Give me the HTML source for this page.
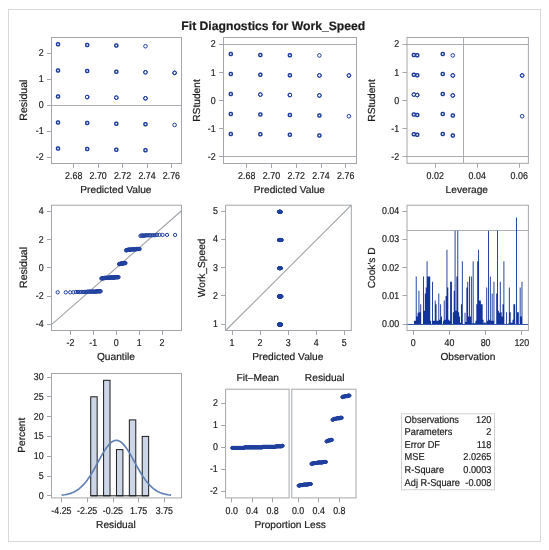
<!DOCTYPE html>
<html lang="en"><head><meta charset="utf-8"><title>Fit Diagnostics for Work_Speed</title>
<style>html,body{margin:0;padding:0;background:#fff;}svg{display:block;}</style></head>
<body>
<svg width="549" height="550" viewBox="0 0 549 550" font-family='"Liberation Sans", Arial, sans-serif' fill="#1c1c1c">
<style>text{stroke:#1c1c1c;stroke-width:0.2px;text-rendering:geometricPrecision;}</style>
<rect x="0" y="0" width="549" height="550" fill="#ffffff"/>
<rect x="8.5" y="9.5" width="532" height="532" fill="none" stroke="#d9d9d9" stroke-width="1"/>
<text x="273.3" y="29.6" font-size="12.2" text-anchor="middle" font-weight="bold">Fit Diagnostics for Work_Speed</text>
<line x1="51.5" y1="105.5" x2="181.5" y2="105.5" stroke="#a9adb2" stroke-width="1"/>
<g fill="none" stroke="#1f3f9f" stroke-width="1.0">
<rect x="56.52" y="42.87" width="3.0" height="3.0" rx="1.0" stroke-width="1.5"/>
<rect x="85.67" y="43.49" width="3.0" height="3.0" rx="1.0" stroke-width="1.5"/>
<rect x="114.81" y="44.11" width="3.0" height="3.0" rx="1.0" stroke-width="1.5"/>
<circle cx="145.46" cy="46.24" r="1.8"/>
<rect x="56.52" y="68.9" width="3.0" height="3.0" rx="1.0" stroke-width="1.5"/>
<rect x="85.67" y="69.52" width="3.0" height="3.0" rx="1.0" stroke-width="1.5"/>
<rect x="114.81" y="70.14" width="3.0" height="3.0" rx="1.0" stroke-width="1.5"/>
<circle cx="145.46" cy="72.27" r="1.8"/>
<circle cx="145.46" cy="72.27" r="1.8"/>
<circle cx="174.6" cy="72.89" r="1.8"/>
<circle cx="174.6" cy="72.89" r="1.8"/>
<rect x="56.52" y="94.93" width="3.0" height="3.0" rx="1.0" stroke-width="1.5"/>
<circle cx="87.17" cy="97.05" r="1.8"/>
<circle cx="87.17" cy="97.05" r="1.8"/>
<circle cx="116.31" cy="97.67" r="1.8"/>
<circle cx="116.31" cy="97.67" r="1.8"/>
<circle cx="145.46" cy="98.3" r="1.8"/>
<circle cx="145.46" cy="98.3" r="1.8"/>
<rect x="56.52" y="120.96" width="3.0" height="3.0" rx="1.0" stroke-width="1.5"/>
<rect x="85.67" y="121.58" width="3.0" height="3.0" rx="1.0" stroke-width="1.5"/>
<rect x="114.81" y="122.2" width="3.0" height="3.0" rx="1.0" stroke-width="1.5"/>
<rect x="143.96" y="122.83" width="3.0" height="3.0" rx="1.0" stroke-width="1.5"/>
<circle cx="174.6" cy="124.95" r="1.8"/>
<rect x="56.52" y="146.99" width="3.0" height="3.0" rx="1.0" stroke-width="1.5"/>
<rect x="85.67" y="147.61" width="3.0" height="3.0" rx="1.0" stroke-width="1.5"/>
<rect x="114.81" y="148.23" width="3.0" height="3.0" rx="1.0" stroke-width="1.5"/>
<rect x="143.96" y="148.86" width="3.0" height="3.0" rx="1.0" stroke-width="1.5"/>
</g>
<rect x="51.5" y="37.5" width="130" height="126" fill="none" stroke="#a3a7ab" stroke-width="1"/>
<line x1="73.5" y1="163.5" x2="73.5" y2="168" stroke="#a3a7ab" stroke-width="1"/>
<text transform="translate(73.7 179.1) scale(0.885 1)" font-size="10" text-anchor="middle">2.68</text>
<line x1="98.5" y1="163.5" x2="98.5" y2="168" stroke="#a3a7ab" stroke-width="1"/>
<text transform="translate(98.13 179.1) scale(0.885 1)" font-size="10" text-anchor="middle">2.70</text>
<line x1="122.5" y1="163.5" x2="122.5" y2="168" stroke="#a3a7ab" stroke-width="1"/>
<text transform="translate(122.56 179.1) scale(0.885 1)" font-size="10" text-anchor="middle">2.72</text>
<line x1="147.5" y1="163.5" x2="147.5" y2="168" stroke="#a3a7ab" stroke-width="1"/>
<text transform="translate(146.99 179.1) scale(0.885 1)" font-size="10" text-anchor="middle">2.74</text>
<line x1="171.5" y1="163.5" x2="171.5" y2="168" stroke="#a3a7ab" stroke-width="1"/>
<text transform="translate(171.42 179.1) scale(0.885 1)" font-size="10" text-anchor="middle">2.76</text>
<line x1="47" y1="53.5" x2="51.5" y2="53.5" stroke="#a3a7ab" stroke-width="1"/>
<text transform="translate(43.7 55.94) scale(0.885 1)" font-size="10" text-anchor="end">2</text>
<line x1="47" y1="79.5" x2="51.5" y2="79.5" stroke="#a3a7ab" stroke-width="1"/>
<text transform="translate(43.7 81.97) scale(0.885 1)" font-size="10" text-anchor="end">1</text>
<line x1="47" y1="105.5" x2="51.5" y2="105.5" stroke="#a3a7ab" stroke-width="1"/>
<text transform="translate(43.7 108) scale(0.885 1)" font-size="10" text-anchor="end">0</text>
<line x1="47" y1="131.5" x2="51.5" y2="131.5" stroke="#a3a7ab" stroke-width="1"/>
<text transform="translate(43.7 134.03) scale(0.885 1)" font-size="10" text-anchor="end">-1</text>
<line x1="47" y1="157.5" x2="51.5" y2="157.5" stroke="#a3a7ab" stroke-width="1"/>
<text transform="translate(43.7 160.06) scale(0.885 1)" font-size="10" text-anchor="end">-2</text>
<text x="115.9" y="192.6" font-size="10.2" text-anchor="middle">Predicted Value</text>
<text x="26.9" y="100.1" font-size="10.55" text-anchor="middle" transform="rotate(-90 26.9 100.1)">Residual</text>
<line x1="223.5" y1="44.5" x2="356.5" y2="44.5" stroke="#a9adb2" stroke-width="1"/>
<line x1="223.5" y1="156.5" x2="356.5" y2="156.5" stroke="#a9adb2" stroke-width="1"/>
<g fill="none" stroke="#1f3f9f" stroke-width="1.0">
<rect x="229.31" y="52.6" width="3.0" height="3.0" rx="1.0" stroke-width="1.5"/>
<rect x="258.84" y="53.4" width="3.0" height="3.0" rx="1.0" stroke-width="1.5"/>
<rect x="288.37" y="53.83" width="3.0" height="3.0" rx="1.0" stroke-width="1.5"/>
<circle cx="319.39" cy="55.42" r="1.8"/>
<rect x="229.31" y="72.57" width="3.0" height="3.0" rx="1.0" stroke-width="1.5"/>
<rect x="258.84" y="73.23" width="3.0" height="3.0" rx="1.0" stroke-width="1.5"/>
<rect x="288.37" y="73.68" width="3.0" height="3.0" rx="1.0" stroke-width="1.5"/>
<circle cx="319.39" cy="75.44" r="1.8"/>
<circle cx="319.39" cy="75.44" r="1.8"/>
<circle cx="348.92" cy="75.49" r="1.8"/>
<circle cx="348.92" cy="75.49" r="1.8"/>
<rect x="229.31" y="92.55" width="3.0" height="3.0" rx="1.0" stroke-width="1.5"/>
<circle cx="260.34" cy="94.57" r="1.8"/>
<circle cx="260.34" cy="94.57" r="1.8"/>
<circle cx="289.87" cy="95.04" r="1.8"/>
<circle cx="289.87" cy="95.04" r="1.8"/>
<circle cx="319.39" cy="95.47" r="1.8"/>
<circle cx="319.39" cy="95.47" r="1.8"/>
<rect x="229.31" y="112.52" width="3.0" height="3.0" rx="1.0" stroke-width="1.5"/>
<rect x="258.84" y="112.9" width="3.0" height="3.0" rx="1.0" stroke-width="1.5"/>
<rect x="288.37" y="113.39" width="3.0" height="3.0" rx="1.0" stroke-width="1.5"/>
<rect x="317.89" y="113.99" width="3.0" height="3.0" rx="1.0" stroke-width="1.5"/>
<circle cx="348.92" cy="116.23" r="1.8"/>
<rect x="229.31" y="132.5" width="3.0" height="3.0" rx="1.0" stroke-width="1.5"/>
<rect x="258.84" y="132.74" width="3.0" height="3.0" rx="1.0" stroke-width="1.5"/>
<rect x="288.37" y="133.24" width="3.0" height="3.0" rx="1.0" stroke-width="1.5"/>
<rect x="317.89" y="134.01" width="3.0" height="3.0" rx="1.0" stroke-width="1.5"/>
</g>
<rect x="223.5" y="37.5" width="133" height="126" fill="none" stroke="#a3a7ab" stroke-width="1"/>
<line x1="246.5" y1="163.5" x2="246.5" y2="168" stroke="#a3a7ab" stroke-width="1"/>
<text transform="translate(246.7 179.1) scale(0.885 1)" font-size="10" text-anchor="middle">2.68</text>
<line x1="271.5" y1="163.5" x2="271.5" y2="168" stroke="#a3a7ab" stroke-width="1"/>
<text transform="translate(271.45 179.1) scale(0.885 1)" font-size="10" text-anchor="middle">2.70</text>
<line x1="296.5" y1="163.5" x2="296.5" y2="168" stroke="#a3a7ab" stroke-width="1"/>
<text transform="translate(296.2 179.1) scale(0.885 1)" font-size="10" text-anchor="middle">2.72</text>
<line x1="321.5" y1="163.5" x2="321.5" y2="168" stroke="#a3a7ab" stroke-width="1"/>
<text transform="translate(320.95 179.1) scale(0.885 1)" font-size="10" text-anchor="middle">2.74</text>
<line x1="345.5" y1="163.5" x2="345.5" y2="168" stroke="#a3a7ab" stroke-width="1"/>
<text transform="translate(345.7 179.1) scale(0.885 1)" font-size="10" text-anchor="middle">2.76</text>
<line x1="219" y1="44.5" x2="223.5" y2="44.5" stroke="#a3a7ab" stroke-width="1"/>
<text transform="translate(215.7 47.4) scale(0.885 1)" font-size="10" text-anchor="end">2</text>
<line x1="219" y1="72.5" x2="223.5" y2="72.5" stroke="#a3a7ab" stroke-width="1"/>
<text transform="translate(215.7 75.5) scale(0.885 1)" font-size="10" text-anchor="end">1</text>
<line x1="219" y1="100.5" x2="223.5" y2="100.5" stroke="#a3a7ab" stroke-width="1"/>
<text transform="translate(215.7 103.6) scale(0.885 1)" font-size="10" text-anchor="end">0</text>
<line x1="219" y1="128.5" x2="223.5" y2="128.5" stroke="#a3a7ab" stroke-width="1"/>
<text transform="translate(215.7 131.7) scale(0.885 1)" font-size="10" text-anchor="end">-1</text>
<line x1="219" y1="156.5" x2="223.5" y2="156.5" stroke="#a3a7ab" stroke-width="1"/>
<text transform="translate(215.7 159.8) scale(0.885 1)" font-size="10" text-anchor="end">-2</text>
<text x="289.4" y="192.6" font-size="10.2" text-anchor="middle">Predicted Value</text>
<text x="200.4" y="100.5" font-size="10.2" text-anchor="middle" transform="rotate(-90 200.4 100.5)">RStudent</text>
<line x1="407" y1="44.5" x2="528.4" y2="44.5" stroke="#a9adb2" stroke-width="1"/>
<line x1="407" y1="156.5" x2="528.4" y2="156.5" stroke="#a9adb2" stroke-width="1"/>
<line x1="463.5" y1="37.5" x2="463.5" y2="163.3" stroke="#a9adb2" stroke-width="1"/>
<g fill="none" stroke="#1f3f9f" stroke-width="1.0">
<rect x="441.25" y="52.6" width="3.0" height="3.0" rx="1.0" stroke-width="1.5"/>
<rect x="412.35" y="53.4" width="3.0" height="3.0" rx="1.0" stroke-width="1.5"/>
<rect x="415.73" y="53.83" width="3.0" height="3.0" rx="1.0" stroke-width="1.5"/>
<circle cx="452.83" cy="55.42" r="1.8"/>
<rect x="441.25" y="72.57" width="3.0" height="3.0" rx="1.0" stroke-width="1.5"/>
<rect x="412.35" y="73.23" width="3.0" height="3.0" rx="1.0" stroke-width="1.5"/>
<rect x="415.73" y="73.68" width="3.0" height="3.0" rx="1.0" stroke-width="1.5"/>
<circle cx="452.83" cy="75.44" r="1.8"/>
<circle cx="452.83" cy="75.44" r="1.8"/>
<circle cx="522.13" cy="75.49" r="1.8"/>
<circle cx="522.13" cy="75.49" r="1.8"/>
<rect x="441.25" y="92.55" width="3.0" height="3.0" rx="1.0" stroke-width="1.5"/>
<circle cx="413.85" cy="94.57" r="1.8"/>
<circle cx="413.85" cy="94.57" r="1.8"/>
<circle cx="417.23" cy="95.04" r="1.8"/>
<circle cx="417.23" cy="95.04" r="1.8"/>
<circle cx="452.83" cy="95.47" r="1.8"/>
<circle cx="452.83" cy="95.47" r="1.8"/>
<rect x="441.25" y="112.52" width="3.0" height="3.0" rx="1.0" stroke-width="1.5"/>
<rect x="412.35" y="112.9" width="3.0" height="3.0" rx="1.0" stroke-width="1.5"/>
<rect x="415.73" y="113.39" width="3.0" height="3.0" rx="1.0" stroke-width="1.5"/>
<rect x="451.33" y="113.99" width="3.0" height="3.0" rx="1.0" stroke-width="1.5"/>
<circle cx="522.13" cy="116.23" r="1.8"/>
<rect x="441.25" y="132.5" width="3.0" height="3.0" rx="1.0" stroke-width="1.5"/>
<rect x="412.35" y="132.74" width="3.0" height="3.0" rx="1.0" stroke-width="1.5"/>
<rect x="415.73" y="133.24" width="3.0" height="3.0" rx="1.0" stroke-width="1.5"/>
<rect x="451.33" y="134.01" width="3.0" height="3.0" rx="1.0" stroke-width="1.5"/>
</g>
<rect x="407" y="37.5" width="121.4" height="125.8" fill="none" stroke="#a3a7ab" stroke-width="1"/>
<line x1="435.5" y1="163.3" x2="435.5" y2="167.8" stroke="#a3a7ab" stroke-width="1"/>
<text transform="translate(435.2 178.9) scale(0.885 1)" font-size="10" text-anchor="middle">0.02</text>
<line x1="477.5" y1="163.3" x2="477.5" y2="167.8" stroke="#a3a7ab" stroke-width="1"/>
<text transform="translate(477.2 178.9) scale(0.885 1)" font-size="10" text-anchor="middle">0.04</text>
<line x1="519.5" y1="163.3" x2="519.5" y2="167.8" stroke="#a3a7ab" stroke-width="1"/>
<text transform="translate(519.2 178.9) scale(0.885 1)" font-size="10" text-anchor="middle">0.06</text>
<line x1="402.5" y1="44.5" x2="407" y2="44.5" stroke="#a3a7ab" stroke-width="1"/>
<text transform="translate(399.2 47.4) scale(0.885 1)" font-size="10" text-anchor="end">2</text>
<line x1="402.5" y1="72.5" x2="407" y2="72.5" stroke="#a3a7ab" stroke-width="1"/>
<text transform="translate(399.2 75.5) scale(0.885 1)" font-size="10" text-anchor="end">1</text>
<line x1="402.5" y1="100.5" x2="407" y2="100.5" stroke="#a3a7ab" stroke-width="1"/>
<text transform="translate(399.2 103.6) scale(0.885 1)" font-size="10" text-anchor="end">0</text>
<line x1="402.5" y1="128.5" x2="407" y2="128.5" stroke="#a3a7ab" stroke-width="1"/>
<text transform="translate(399.2 131.7) scale(0.885 1)" font-size="10" text-anchor="end">-1</text>
<line x1="402.5" y1="156.5" x2="407" y2="156.5" stroke="#a3a7ab" stroke-width="1"/>
<text transform="translate(399.2 159.8) scale(0.885 1)" font-size="10" text-anchor="end">-2</text>
<text x="466.8" y="192.6" font-size="10.2" text-anchor="middle">Leverage</text>
<text x="375.2" y="100.4" font-size="10.2" text-anchor="middle" transform="rotate(-90 375.2 100.4)">RStudent</text>
<clipPath id="c4"><rect x="51.5" y="205.2" width="130.0" height="125.30000000000001"/></clipPath>
<line x1="51.5" y1="324.69" x2="181.5" y2="210.74" stroke="#9fa3a7" stroke-width="1.1" clip-path="url(#c4)"/>
<g fill="none" stroke="#1f3f9f" stroke-width="1.0">
<circle cx="57.72" cy="292.31" r="1.65"/>
<circle cx="65.77" cy="292.31" r="1.65"/>
<circle cx="70.2" cy="292.31" r="1.65"/>
<circle cx="73.38" cy="292.31" r="1.65"/>
<circle cx="75.89" cy="291.98" r="1.65"/>
<circle cx="78" cy="291.98" r="1.65"/>
<circle cx="79.82" cy="291.98" r="1.65"/>
<circle cx="81.44" cy="291.98" r="1.65"/>
<circle cx="82.9" cy="291.98" r="1.65"/>
<circle cx="84.23" cy="291.98" r="1.65"/>
<circle cx="85.46" cy="291.98" r="1.65"/>
<circle cx="86.61" cy="291.98" r="1.65"/>
<circle cx="87.69" cy="291.64" r="1.65"/>
<circle cx="88.71" cy="291.64" r="1.65"/>
<circle cx="89.68" cy="291.64" r="1.65"/>
<circle cx="90.6" cy="291.64" r="1.65"/>
<circle cx="91.48" cy="291.64" r="1.65"/>
<circle cx="92.33" cy="291.64" r="1.65"/>
<circle cx="93.14" cy="291.64" r="1.65"/>
<circle cx="93.93" cy="291.64" r="1.65"/>
<circle cx="94.69" cy="291.64" r="1.65"/>
<circle cx="95.42" cy="291.64" r="1.65"/>
<circle cx="96.14" cy="291.64" r="1.65"/>
<circle cx="96.84" cy="291.3" r="1.65"/>
<circle cx="97.52" cy="291.3" r="1.65"/>
<circle cx="98.18" cy="291.3" r="1.65"/>
<circle cx="98.83" cy="291.3" r="1.65"/>
<circle cx="99.46" cy="291.3" r="1.65"/>
<circle cx="100.08" cy="291.3" r="1.65"/>
<circle cx="100.69" cy="291.3" r="1.65"/>
<circle cx="101.29" cy="278.55" r="1.65"/>
<circle cx="101.88" cy="278.21" r="1.65"/>
<circle cx="102.46" cy="278.21" r="1.65"/>
<circle cx="103.03" cy="278.21" r="1.65"/>
<circle cx="103.59" cy="278.21" r="1.65"/>
<circle cx="104.14" cy="278.21" r="1.65"/>
<circle cx="104.69" cy="277.88" r="1.65"/>
<circle cx="105.23" cy="277.88" r="1.65"/>
<circle cx="105.77" cy="277.88" r="1.65"/>
<circle cx="106.3" cy="277.88" r="1.65"/>
<circle cx="106.82" cy="277.88" r="1.65"/>
<circle cx="107.34" cy="277.88" r="1.65"/>
<circle cx="107.85" cy="277.88" r="1.65"/>
<circle cx="108.36" cy="277.88" r="1.65"/>
<circle cx="108.87" cy="277.88" r="1.65"/>
<circle cx="109.37" cy="277.54" r="1.65"/>
<circle cx="109.87" cy="277.54" r="1.65"/>
<circle cx="110.36" cy="277.54" r="1.65"/>
<circle cx="110.86" cy="277.54" r="1.65"/>
<circle cx="111.35" cy="277.54" r="1.65"/>
<circle cx="111.84" cy="277.54" r="1.65"/>
<circle cx="112.32" cy="277.54" r="1.65"/>
<circle cx="112.81" cy="277.54" r="1.65"/>
<circle cx="113.29" cy="277.54" r="1.65"/>
<circle cx="113.77" cy="277.54" r="1.65"/>
<circle cx="114.25" cy="277.54" r="1.65"/>
<circle cx="114.73" cy="277.54" r="1.65"/>
<circle cx="115.21" cy="277.2" r="1.65"/>
<circle cx="115.68" cy="277.2" r="1.65"/>
<circle cx="116.16" cy="277.2" r="1.65"/>
<circle cx="116.64" cy="277.2" r="1.65"/>
<circle cx="117.12" cy="277.2" r="1.65"/>
<circle cx="117.59" cy="277.2" r="1.65"/>
<circle cx="118.07" cy="277.2" r="1.65"/>
<circle cx="118.55" cy="277.2" r="1.65"/>
<circle cx="119.03" cy="264.11" r="1.65"/>
<circle cx="119.51" cy="264.11" r="1.65"/>
<circle cx="119.99" cy="263.78" r="1.65"/>
<circle cx="120.48" cy="263.78" r="1.65"/>
<circle cx="120.96" cy="263.78" r="1.65"/>
<circle cx="121.45" cy="263.44" r="1.65"/>
<circle cx="121.94" cy="263.44" r="1.65"/>
<circle cx="122.44" cy="263.44" r="1.65"/>
<circle cx="122.93" cy="263.44" r="1.65"/>
<circle cx="123.43" cy="263.44" r="1.65"/>
<circle cx="123.93" cy="263.1" r="1.65"/>
<circle cx="124.44" cy="263.1" r="1.65"/>
<circle cx="124.95" cy="263.1" r="1.65"/>
<circle cx="125.46" cy="263.1" r="1.65"/>
<circle cx="125.98" cy="250.35" r="1.65"/>
<circle cx="126.5" cy="250.35" r="1.65"/>
<circle cx="127.03" cy="250.01" r="1.65"/>
<circle cx="127.57" cy="250.01" r="1.65"/>
<circle cx="128.11" cy="249.68" r="1.65"/>
<circle cx="128.66" cy="249.68" r="1.65"/>
<circle cx="129.21" cy="249.68" r="1.65"/>
<circle cx="129.77" cy="249.68" r="1.65"/>
<circle cx="130.34" cy="249.68" r="1.65"/>
<circle cx="130.92" cy="249.68" r="1.65"/>
<circle cx="131.51" cy="249.34" r="1.65"/>
<circle cx="132.11" cy="249.34" r="1.65"/>
<circle cx="132.72" cy="249.34" r="1.65"/>
<circle cx="133.34" cy="249.34" r="1.65"/>
<circle cx="133.97" cy="249.34" r="1.65"/>
<circle cx="134.62" cy="249.34" r="1.65"/>
<circle cx="135.28" cy="249.34" r="1.65"/>
<circle cx="135.96" cy="249.34" r="1.65"/>
<circle cx="136.66" cy="249" r="1.65"/>
<circle cx="137.38" cy="249" r="1.65"/>
<circle cx="138.11" cy="249" r="1.65"/>
<circle cx="138.87" cy="249" r="1.65"/>
<circle cx="139.66" cy="249" r="1.65"/>
<circle cx="140.47" cy="235.91" r="1.65"/>
<circle cx="141.32" cy="235.58" r="1.65"/>
<circle cx="142.2" cy="235.58" r="1.65"/>
<circle cx="143.12" cy="235.58" r="1.65"/>
<circle cx="144.09" cy="235.58" r="1.65"/>
<circle cx="145.11" cy="235.58" r="1.65"/>
<circle cx="146.19" cy="235.24" r="1.65"/>
<circle cx="147.34" cy="235.24" r="1.65"/>
<circle cx="148.57" cy="235.24" r="1.65"/>
<circle cx="149.9" cy="235.24" r="1.65"/>
<circle cx="151.36" cy="235.24" r="1.65"/>
<circle cx="152.98" cy="235.24" r="1.65"/>
<circle cx="154.8" cy="235.24" r="1.65"/>
<circle cx="156.91" cy="234.9" r="1.65"/>
<circle cx="159.42" cy="234.9" r="1.65"/>
<circle cx="162.6" cy="234.9" r="1.65"/>
<circle cx="167.03" cy="234.9" r="1.65"/>
<circle cx="175.08" cy="234.9" r="1.65"/>
</g>
<rect x="51.5" y="205.2" width="130" height="125.3" fill="none" stroke="#a3a7ab" stroke-width="1"/>
<line x1="70.5" y1="330.5" x2="70.5" y2="335" stroke="#a3a7ab" stroke-width="1"/>
<text transform="translate(70.4 346.1) scale(0.885 1)" font-size="10" text-anchor="middle">-2</text>
<line x1="93.5" y1="330.5" x2="93.5" y2="335" stroke="#a3a7ab" stroke-width="1"/>
<text transform="translate(93.3 346.1) scale(0.885 1)" font-size="10" text-anchor="middle">-1</text>
<line x1="116.5" y1="330.5" x2="116.5" y2="335" stroke="#a3a7ab" stroke-width="1"/>
<text transform="translate(116.2 346.1) scale(0.885 1)" font-size="10" text-anchor="middle">0</text>
<line x1="139.5" y1="330.5" x2="139.5" y2="335" stroke="#a3a7ab" stroke-width="1"/>
<text transform="translate(139.1 346.1) scale(0.885 1)" font-size="10" text-anchor="middle">1</text>
<line x1="162.5" y1="330.5" x2="162.5" y2="335" stroke="#a3a7ab" stroke-width="1"/>
<text transform="translate(162 346.1) scale(0.885 1)" font-size="10" text-anchor="middle">2</text>
<line x1="47" y1="211.5" x2="51.5" y2="211.5" stroke="#a3a7ab" stroke-width="1"/>
<text transform="translate(43.7 214.3) scale(0.885 1)" font-size="10" text-anchor="end">4</text>
<line x1="47" y1="239.5" x2="51.5" y2="239.5" stroke="#a3a7ab" stroke-width="1"/>
<text transform="translate(43.7 242.5) scale(0.885 1)" font-size="10" text-anchor="end">2</text>
<line x1="47" y1="267.5" x2="51.5" y2="267.5" stroke="#a3a7ab" stroke-width="1"/>
<text transform="translate(43.7 270.7) scale(0.885 1)" font-size="10" text-anchor="end">0</text>
<line x1="47" y1="296.5" x2="51.5" y2="296.5" stroke="#a3a7ab" stroke-width="1"/>
<text transform="translate(43.7 298.9) scale(0.885 1)" font-size="10" text-anchor="end">-2</text>
<line x1="47" y1="324.5" x2="51.5" y2="324.5" stroke="#a3a7ab" stroke-width="1"/>
<text transform="translate(43.7 327.1) scale(0.885 1)" font-size="10" text-anchor="end">-4</text>
<text x="115.9" y="359.8" font-size="10.2" text-anchor="middle">Quantile</text>
<text x="26.9" y="267.45" font-size="10.55" text-anchor="middle" transform="rotate(-90 26.9 267.45)">Residual</text>
<line x1="225.6" y1="330.5" x2="351.3" y2="205.2" stroke="#9fa3a7" stroke-width="1.1"/>
<g fill="none" stroke="#1f3f9f" stroke-width="1.0">
<circle cx="279.01" cy="324.6" r="1.5"/>
<circle cx="279.01" cy="324.6" r="1.5"/>
<circle cx="279.01" cy="324.6" r="1.5"/>
<circle cx="279.01" cy="324.6" r="1.5"/>
<circle cx="279.01" cy="324.6" r="1.5"/>
<circle cx="279.01" cy="324.6" r="1.5"/>
<circle cx="279.01" cy="324.6" r="1.5"/>
<circle cx="279.68" cy="324.6" r="1.5"/>
<circle cx="279.68" cy="324.6" r="1.5"/>
<circle cx="279.68" cy="324.6" r="1.5"/>
<circle cx="279.68" cy="324.6" r="1.5"/>
<circle cx="279.68" cy="324.6" r="1.5"/>
<circle cx="279.68" cy="324.6" r="1.5"/>
<circle cx="279.68" cy="324.6" r="1.5"/>
<circle cx="279.68" cy="324.6" r="1.5"/>
<circle cx="279.68" cy="324.6" r="1.5"/>
<circle cx="279.68" cy="324.6" r="1.5"/>
<circle cx="279.68" cy="324.6" r="1.5"/>
<circle cx="280.35" cy="324.6" r="1.5"/>
<circle cx="280.35" cy="324.6" r="1.5"/>
<circle cx="280.35" cy="324.6" r="1.5"/>
<circle cx="280.35" cy="324.6" r="1.5"/>
<circle cx="280.35" cy="324.6" r="1.5"/>
<circle cx="280.35" cy="324.6" r="1.5"/>
<circle cx="280.35" cy="324.6" r="1.5"/>
<circle cx="280.35" cy="324.6" r="1.5"/>
<circle cx="281.02" cy="324.6" r="1.5"/>
<circle cx="281.02" cy="324.6" r="1.5"/>
<circle cx="281.02" cy="324.6" r="1.5"/>
<circle cx="281.02" cy="324.6" r="1.5"/>
<circle cx="279.01" cy="296.4" r="1.5"/>
<circle cx="279.01" cy="296.4" r="1.5"/>
<circle cx="279.01" cy="296.4" r="1.5"/>
<circle cx="279.01" cy="296.4" r="1.5"/>
<circle cx="279.01" cy="296.4" r="1.5"/>
<circle cx="279.01" cy="296.4" r="1.5"/>
<circle cx="279.01" cy="296.4" r="1.5"/>
<circle cx="279.01" cy="296.4" r="1.5"/>
<circle cx="279.68" cy="296.4" r="1.5"/>
<circle cx="279.68" cy="296.4" r="1.5"/>
<circle cx="279.68" cy="296.4" r="1.5"/>
<circle cx="279.68" cy="296.4" r="1.5"/>
<circle cx="279.68" cy="296.4" r="1.5"/>
<circle cx="279.68" cy="296.4" r="1.5"/>
<circle cx="279.68" cy="296.4" r="1.5"/>
<circle cx="279.68" cy="296.4" r="1.5"/>
<circle cx="279.68" cy="296.4" r="1.5"/>
<circle cx="279.68" cy="296.4" r="1.5"/>
<circle cx="279.68" cy="296.4" r="1.5"/>
<circle cx="279.68" cy="296.4" r="1.5"/>
<circle cx="280.35" cy="296.4" r="1.5"/>
<circle cx="280.35" cy="296.4" r="1.5"/>
<circle cx="280.35" cy="296.4" r="1.5"/>
<circle cx="280.35" cy="296.4" r="1.5"/>
<circle cx="280.35" cy="296.4" r="1.5"/>
<circle cx="280.35" cy="296.4" r="1.5"/>
<circle cx="280.35" cy="296.4" r="1.5"/>
<circle cx="280.35" cy="296.4" r="1.5"/>
<circle cx="280.35" cy="296.4" r="1.5"/>
<circle cx="281.02" cy="296.4" r="1.5"/>
<circle cx="281.02" cy="296.4" r="1.5"/>
<circle cx="281.02" cy="296.4" r="1.5"/>
<circle cx="281.02" cy="296.4" r="1.5"/>
<circle cx="281.02" cy="296.4" r="1.5"/>
<circle cx="281.69" cy="296.4" r="1.5"/>
<circle cx="279.01" cy="268.2" r="1.5"/>
<circle cx="279.01" cy="268.2" r="1.5"/>
<circle cx="279.01" cy="268.2" r="1.5"/>
<circle cx="279.01" cy="268.2" r="1.5"/>
<circle cx="279.68" cy="268.2" r="1.5"/>
<circle cx="279.68" cy="268.2" r="1.5"/>
<circle cx="279.68" cy="268.2" r="1.5"/>
<circle cx="279.68" cy="268.2" r="1.5"/>
<circle cx="279.68" cy="268.2" r="1.5"/>
<circle cx="280.35" cy="268.2" r="1.5"/>
<circle cx="280.35" cy="268.2" r="1.5"/>
<circle cx="280.35" cy="268.2" r="1.5"/>
<circle cx="281.02" cy="268.2" r="1.5"/>
<circle cx="281.02" cy="268.2" r="1.5"/>
<circle cx="279.01" cy="240" r="1.5"/>
<circle cx="279.01" cy="240" r="1.5"/>
<circle cx="279.01" cy="240" r="1.5"/>
<circle cx="279.01" cy="240" r="1.5"/>
<circle cx="279.01" cy="240" r="1.5"/>
<circle cx="279.68" cy="240" r="1.5"/>
<circle cx="279.68" cy="240" r="1.5"/>
<circle cx="279.68" cy="240" r="1.5"/>
<circle cx="279.68" cy="240" r="1.5"/>
<circle cx="279.68" cy="240" r="1.5"/>
<circle cx="279.68" cy="240" r="1.5"/>
<circle cx="279.68" cy="240" r="1.5"/>
<circle cx="279.68" cy="240" r="1.5"/>
<circle cx="280.35" cy="240" r="1.5"/>
<circle cx="280.35" cy="240" r="1.5"/>
<circle cx="280.35" cy="240" r="1.5"/>
<circle cx="280.35" cy="240" r="1.5"/>
<circle cx="280.35" cy="240" r="1.5"/>
<circle cx="280.35" cy="240" r="1.5"/>
<circle cx="281.02" cy="240" r="1.5"/>
<circle cx="281.02" cy="240" r="1.5"/>
<circle cx="281.69" cy="240" r="1.5"/>
<circle cx="281.69" cy="240" r="1.5"/>
<circle cx="279.01" cy="211.8" r="1.5"/>
<circle cx="279.01" cy="211.8" r="1.5"/>
<circle cx="279.01" cy="211.8" r="1.5"/>
<circle cx="279.01" cy="211.8" r="1.5"/>
<circle cx="279.01" cy="211.8" r="1.5"/>
<circle cx="279.68" cy="211.8" r="1.5"/>
<circle cx="279.68" cy="211.8" r="1.5"/>
<circle cx="279.68" cy="211.8" r="1.5"/>
<circle cx="279.68" cy="211.8" r="1.5"/>
<circle cx="279.68" cy="211.8" r="1.5"/>
<circle cx="279.68" cy="211.8" r="1.5"/>
<circle cx="279.68" cy="211.8" r="1.5"/>
<circle cx="280.35" cy="211.8" r="1.5"/>
<circle cx="280.35" cy="211.8" r="1.5"/>
<circle cx="280.35" cy="211.8" r="1.5"/>
<circle cx="280.35" cy="211.8" r="1.5"/>
<circle cx="280.35" cy="211.8" r="1.5"/>
<circle cx="281.02" cy="211.8" r="1.5"/>
</g>
<rect x="225.6" y="205.2" width="125.7" height="125.3" fill="none" stroke="#a3a7ab" stroke-width="1"/>
<line x1="232.5" y1="330.5" x2="232.5" y2="335" stroke="#a3a7ab" stroke-width="1"/>
<text transform="translate(232 346.1) scale(0.885 1)" font-size="10" text-anchor="middle">1</text>
<line x1="260.5" y1="330.5" x2="260.5" y2="335" stroke="#a3a7ab" stroke-width="1"/>
<text transform="translate(260.08 346.1) scale(0.885 1)" font-size="10" text-anchor="middle">2</text>
<line x1="288.5" y1="330.5" x2="288.5" y2="335" stroke="#a3a7ab" stroke-width="1"/>
<text transform="translate(288.16 346.1) scale(0.885 1)" font-size="10" text-anchor="middle">3</text>
<line x1="316.5" y1="330.5" x2="316.5" y2="335" stroke="#a3a7ab" stroke-width="1"/>
<text transform="translate(316.24 346.1) scale(0.885 1)" font-size="10" text-anchor="middle">4</text>
<line x1="344.5" y1="330.5" x2="344.5" y2="335" stroke="#a3a7ab" stroke-width="1"/>
<text transform="translate(344.32 346.1) scale(0.885 1)" font-size="10" text-anchor="middle">5</text>
<line x1="221.1" y1="211.5" x2="225.6" y2="211.5" stroke="#a3a7ab" stroke-width="1"/>
<text transform="translate(217.8 214.2) scale(0.885 1)" font-size="10" text-anchor="end">5</text>
<line x1="221.1" y1="239.5" x2="225.6" y2="239.5" stroke="#a3a7ab" stroke-width="1"/>
<text transform="translate(217.8 242.4) scale(0.885 1)" font-size="10" text-anchor="end">4</text>
<line x1="221.1" y1="267.5" x2="225.6" y2="267.5" stroke="#a3a7ab" stroke-width="1"/>
<text transform="translate(217.8 270.6) scale(0.885 1)" font-size="10" text-anchor="end">3</text>
<line x1="221.1" y1="295.5" x2="225.6" y2="295.5" stroke="#a3a7ab" stroke-width="1"/>
<text transform="translate(217.8 298.8) scale(0.885 1)" font-size="10" text-anchor="end">2</text>
<line x1="221.1" y1="324.5" x2="225.6" y2="324.5" stroke="#a3a7ab" stroke-width="1"/>
<text transform="translate(217.8 327) scale(0.885 1)" font-size="10" text-anchor="end">1</text>
<text x="287.85" y="359.8" font-size="10.2" text-anchor="middle">Predicted Value</text>
<text x="205.5" y="267.85" font-size="10.2" text-anchor="middle" transform="rotate(-90 205.5 267.85)">Work_Speed</text>
<line x1="407" y1="230.5" x2="528.4" y2="230.5" stroke="#a9adb2" stroke-width="1"/>
<path d="M413.95,324.1L413.95,320.71L414.86,320.71L414.86,320.71L415.76,320.71L415.76,276.39L416.66,276.39L416.66,316.48L417.57,316.48L417.57,312.81L418.47,312.81L418.47,290.79L419.38,290.79L419.38,312.24L420.28,312.24L420.28,304.34L421.18,304.34L421.18,324.02L422.09,324.02L422.09,324.02L422.99,324.02L422.99,276.39L423.9,276.39L423.9,310.83L424.8,310.83L424.8,293.61L425.7,293.61L425.7,287.4L426.61,287.4L426.61,261.15L427.51,261.15L427.51,276.39L428.42,276.39L428.42,276.39L429.32,276.39L429.32,276.39L430.22,276.39L430.22,320.71L431.13,320.71L431.13,324.02L432.03,324.02L432.03,281.75L432.94,281.75L432.94,320.71L433.84,320.71L433.84,320.71L434.74,320.71L434.74,300.39L435.65,300.39L435.65,304.34L436.55,304.34L436.55,320.71L437.46,320.71L437.46,320.71L438.36,320.71L438.36,293.61L439.26,293.61L439.26,319.87L440.17,319.87L440.17,304.34L441.07,304.34L441.07,316.48L441.98,316.48L441.98,324.02L442.88,324.02L442.88,320.71L443.78,320.71L443.78,300.39L444.69,300.39L444.69,319.87L445.59,319.87L445.59,295.98L446.5,295.98L446.5,249.86L447.4,249.86L447.4,287.4L448.3,287.4L448.3,319.87L449.21,319.87L449.21,320.71L450.11,320.71L450.11,281.75L451.02,281.75L451.02,281.75L451.92,281.75L451.92,324.02L452.82,324.02L452.82,312.24L453.73,312.24L453.73,290.79L454.63,290.79L454.63,230.66L455.54,230.66L455.54,310.83L456.44,310.83L456.44,276.39L457.34,276.39L457.34,230.66L458.25,230.66L458.25,312.24L459.15,312.24L459.15,316.48L460.06,316.48L460.06,322.69L460.96,322.69L460.96,304.34L461.86,304.34L461.86,261.15L462.77,261.15L462.77,324.02L463.67,324.02L463.67,324.02L464.58,324.02L464.58,312.81L465.48,312.81L465.48,322.12L466.38,322.12L466.38,287.4L467.29,287.4L467.29,281.75L468.19,281.75L468.19,316.48L469.1,316.48L469.1,276.39L470,276.39L470,316.48L470.9,316.48L470.9,276.39L471.81,276.39L471.81,323.25L472.71,323.25L472.71,261.15L473.62,261.15L473.62,323.25L474.52,323.25L474.52,323.25L475.42,323.25L475.42,320.71L476.33,320.71L476.33,304.34L477.23,304.34L477.23,261.15L478.14,261.15L478.14,249.86L479.04,249.86L479.04,300.39L479.94,300.39L479.94,300.39L480.85,300.39L480.85,304.34L481.75,304.34L481.75,304.34L482.66,304.34L482.66,319.87L483.56,319.87L483.56,323.25L484.46,323.25L484.46,322.12L485.37,322.12L485.37,323.25L486.27,323.25L486.27,287.4L487.18,287.4L487.18,320.71L488.08,320.71L488.08,230.66L488.98,230.66L488.98,319.87L489.89,319.87L489.89,276.39L490.79,276.39L490.79,320.71L491.7,320.71L491.7,293.61L492.6,293.61L492.6,320.71L493.5,320.71L493.5,281.75L494.41,281.75L494.41,324.02L495.31,324.02L495.31,324.02L496.22,324.02L496.22,293.61L497.12,293.61L497.12,230.66L498.02,230.66L498.02,310.83L498.93,310.83L498.93,312.81L499.83,312.81L499.83,281.75L500.74,281.75L500.74,312.24L501.64,312.24L501.64,316.48L502.54,316.48L502.54,304.34L503.45,304.34L503.45,261.15L504.35,261.15L504.35,324.02L505.26,324.02L505.26,324.02L506.16,324.02L506.16,312.24L507.06,312.24L507.06,324.02L507.97,324.02L507.97,323.54L508.87,323.54L508.87,287.4L509.78,287.4L509.78,312.24L510.68,312.24L510.68,322.69L511.58,322.69L511.58,322.69L512.49,322.69L512.49,319.87L513.39,319.87L513.39,304.34L514.3,304.34L514.3,304.34L515.2,304.34L515.2,324.02L516.1,324.02L516.1,217.39L517.01,217.39L517.01,312.24L517.91,312.24L517.91,312.24L518.82,312.24L518.82,324.02L519.72,324.02L519.72,287.4L520.62,287.4L520.62,316.48L521.53,316.48L521.53,281.75L522.43,281.75L522.43,324.1Z" fill="#12339a"/>
<line x1="407" y1="324.5" x2="528.4" y2="324.5" stroke="#3a58ad" stroke-width="1"/>
<rect x="407" y="205.2" width="121.4" height="125.3" fill="none" stroke="#a3a7ab" stroke-width="1"/>
<line x1="413.5" y1="330.5" x2="413.5" y2="335" stroke="#a3a7ab" stroke-width="1"/>
<text transform="translate(413.3 346.1) scale(0.885 1)" font-size="10" text-anchor="middle">0</text>
<line x1="449.5" y1="330.5" x2="449.5" y2="335" stroke="#a3a7ab" stroke-width="1"/>
<text transform="translate(449.46 346.1) scale(0.885 1)" font-size="10" text-anchor="middle">40</text>
<line x1="485.5" y1="330.5" x2="485.5" y2="335" stroke="#a3a7ab" stroke-width="1"/>
<text transform="translate(485.62 346.1) scale(0.885 1)" font-size="10" text-anchor="middle">80</text>
<line x1="521.5" y1="330.5" x2="521.5" y2="335" stroke="#a3a7ab" stroke-width="1"/>
<text transform="translate(521.78 346.1) scale(0.885 1)" font-size="10" text-anchor="middle">120</text>
<line x1="402.5" y1="211.5" x2="407" y2="211.5" stroke="#a3a7ab" stroke-width="1"/>
<text transform="translate(399.2 214.08) scale(0.885 1)" font-size="10" text-anchor="end">0.04</text>
<line x1="402.5" y1="239.5" x2="407" y2="239.5" stroke="#a3a7ab" stroke-width="1"/>
<text transform="translate(399.2 242.31) scale(0.885 1)" font-size="10" text-anchor="end">0.03</text>
<line x1="402.5" y1="267.5" x2="407" y2="267.5" stroke="#a3a7ab" stroke-width="1"/>
<text transform="translate(399.2 270.54) scale(0.885 1)" font-size="10" text-anchor="end">0.02</text>
<line x1="402.5" y1="295.5" x2="407" y2="295.5" stroke="#a3a7ab" stroke-width="1"/>
<text transform="translate(399.2 298.77) scale(0.885 1)" font-size="10" text-anchor="end">0.01</text>
<line x1="402.5" y1="324.5" x2="407" y2="324.5" stroke="#a3a7ab" stroke-width="1"/>
<text transform="translate(399.2 327) scale(0.885 1)" font-size="10" text-anchor="end">0.00</text>
<text x="467.9" y="359.8" font-size="10.2" text-anchor="middle">Observation</text>
<text x="374.8" y="267.85" font-size="10.2" text-anchor="middle" transform="rotate(-90 374.8 267.85)">Cook's D</text>
<rect x="90.72" y="396.8" width="6.44" height="99" fill="#cdd6e6" stroke="#1a1a1a" stroke-width="1"/>
<rect x="103.59" y="380.3" width="6.44" height="115.5" fill="#cdd6e6" stroke="#1a1a1a" stroke-width="1"/>
<rect x="116.47" y="449.6" width="6.44" height="46.2" fill="#cdd6e6" stroke="#1a1a1a" stroke-width="1"/>
<rect x="129.34" y="419.9" width="6.44" height="75.9" fill="#cdd6e6" stroke="#1a1a1a" stroke-width="1"/>
<rect x="142.22" y="436.4" width="6.44" height="59.4" fill="#cdd6e6" stroke="#1a1a1a" stroke-width="1"/>
<line x1="90.72" y1="495.8" x2="148.66" y2="495.8" stroke="#1a1a1a" stroke-width="1"/>
<polyline points="61.6,495.16 63.21,494.97 64.82,494.73 66.43,494.43 68.04,494.07 69.65,493.63 71.26,493.1 72.87,492.46 74.47,491.7 76.08,490.81 77.69,489.78 79.3,488.58 80.91,487.21 82.52,485.66 84.13,483.93 85.74,482 87.35,479.89 88.96,477.59 90.57,475.12 92.18,472.49 93.79,469.74 95.4,466.88 97.01,463.95 98.62,461 100.22,458.06 101.83,455.19 103.44,452.44 105.05,449.86 106.66,447.5 108.27,445.41 109.88,443.63 111.49,442.2 113.1,441.16 114.71,440.53 116.32,440.31 117.93,440.53 119.54,441.16 121.15,442.2 122.76,443.63 124.37,445.41 125.97,447.5 127.58,449.86 129.19,452.44 130.8,455.19 132.41,458.06 134.02,461 135.63,463.95 137.24,466.88 138.85,469.74 140.46,472.49 142.07,475.12 143.68,477.59 145.29,479.89 146.9,482 148.51,483.93 150.12,485.66 151.72,487.21 153.33,488.58 154.94,489.78 156.55,490.81 158.16,491.7 159.77,492.46 161.38,493.1 162.99,493.63 164.6,494.07 166.21,494.43 167.82,494.73 169.43,494.97 171.04,495.16" fill="none" stroke="#6080b3" stroke-width="1.65" stroke-linejoin="round"/>
<rect x="51.5" y="373.5" width="130" height="124.4" fill="none" stroke="#a3a7ab" stroke-width="1"/>
<line x1="61.5" y1="497.9" x2="61.5" y2="502.4" stroke="#a3a7ab" stroke-width="1"/>
<text transform="translate(61.4 513.5) scale(0.885 1)" font-size="10" text-anchor="middle">-4.25</text>
<line x1="87.5" y1="497.9" x2="87.5" y2="502.4" stroke="#a3a7ab" stroke-width="1"/>
<text transform="translate(87.15 513.5) scale(0.885 1)" font-size="10" text-anchor="middle">-2.25</text>
<line x1="113.5" y1="497.9" x2="113.5" y2="502.4" stroke="#a3a7ab" stroke-width="1"/>
<text transform="translate(112.9 513.5) scale(0.885 1)" font-size="10" text-anchor="middle">-0.25</text>
<line x1="138.5" y1="497.9" x2="138.5" y2="502.4" stroke="#a3a7ab" stroke-width="1"/>
<text transform="translate(138.65 513.5) scale(0.885 1)" font-size="10" text-anchor="middle">1.75</text>
<line x1="164.5" y1="497.9" x2="164.5" y2="502.4" stroke="#a3a7ab" stroke-width="1"/>
<text transform="translate(164.4 513.5) scale(0.885 1)" font-size="10" text-anchor="middle">3.75</text>
<line x1="47" y1="377.5" x2="51.5" y2="377.5" stroke="#a3a7ab" stroke-width="1"/>
<text transform="translate(43.7 379.9) scale(0.885 1)" font-size="10" text-anchor="end">30</text>
<line x1="47" y1="396.5" x2="51.5" y2="396.5" stroke="#a3a7ab" stroke-width="1"/>
<text transform="translate(43.7 399.7) scale(0.885 1)" font-size="10" text-anchor="end">25</text>
<line x1="47" y1="416.5" x2="51.5" y2="416.5" stroke="#a3a7ab" stroke-width="1"/>
<text transform="translate(43.7 419.5) scale(0.885 1)" font-size="10" text-anchor="end">20</text>
<line x1="47" y1="436.5" x2="51.5" y2="436.5" stroke="#a3a7ab" stroke-width="1"/>
<text transform="translate(43.7 439.3) scale(0.885 1)" font-size="10" text-anchor="end">15</text>
<line x1="47" y1="456.5" x2="51.5" y2="456.5" stroke="#a3a7ab" stroke-width="1"/>
<text transform="translate(43.7 459.1) scale(0.885 1)" font-size="10" text-anchor="end">10</text>
<line x1="47" y1="476.5" x2="51.5" y2="476.5" stroke="#a3a7ab" stroke-width="1"/>
<text transform="translate(43.7 478.9) scale(0.885 1)" font-size="10" text-anchor="end">5</text>
<line x1="47" y1="495.5" x2="51.5" y2="495.5" stroke="#a3a7ab" stroke-width="1"/>
<text transform="translate(43.7 498.7) scale(0.885 1)" font-size="10" text-anchor="end">0</text>
<text x="115.9" y="527.6" font-size="10.2" text-anchor="middle">Residual</text>
<text x="25.2" y="435.2" font-size="10.2" text-anchor="middle" transform="rotate(-90 25.2 435.2)">Percent</text>
<g fill="none" stroke="#1f3f9f" stroke-width="1.0">
<circle cx="232.11" cy="447.9" r="1.5"/>
<circle cx="232.54" cy="447.9" r="1.5"/>
<circle cx="232.96" cy="447.9" r="1.5"/>
<circle cx="233.39" cy="447.9" r="1.5"/>
<circle cx="233.82" cy="447.9" r="1.5"/>
<circle cx="234.24" cy="447.9" r="1.5"/>
<circle cx="234.67" cy="447.9" r="1.5"/>
<circle cx="235.09" cy="447.9" r="1.5"/>
<circle cx="235.52" cy="447.9" r="1.5"/>
<circle cx="235.95" cy="447.9" r="1.5"/>
<circle cx="236.37" cy="447.9" r="1.5"/>
<circle cx="236.8" cy="447.9" r="1.5"/>
<circle cx="237.22" cy="447.9" r="1.5"/>
<circle cx="237.65" cy="447.9" r="1.5"/>
<circle cx="238.07" cy="447.9" r="1.5"/>
<circle cx="238.5" cy="447.9" r="1.5"/>
<circle cx="238.93" cy="447.9" r="1.5"/>
<circle cx="239.35" cy="447.9" r="1.5"/>
<circle cx="239.78" cy="447.9" r="1.5"/>
<circle cx="240.2" cy="447.9" r="1.5"/>
<circle cx="240.63" cy="447.9" r="1.5"/>
<circle cx="241.06" cy="447.9" r="1.5"/>
<circle cx="241.48" cy="447.9" r="1.5"/>
<circle cx="241.91" cy="447.9" r="1.5"/>
<circle cx="242.33" cy="447.9" r="1.5"/>
<circle cx="242.76" cy="447.9" r="1.5"/>
<circle cx="243.18" cy="447.9" r="1.5"/>
<circle cx="243.61" cy="447.9" r="1.5"/>
<circle cx="244.04" cy="447.9" r="1.5"/>
<circle cx="244.46" cy="447.37" r="1.5"/>
<circle cx="244.89" cy="447.37" r="1.5"/>
<circle cx="245.31" cy="447.37" r="1.5"/>
<circle cx="245.74" cy="447.37" r="1.5"/>
<circle cx="246.17" cy="447.37" r="1.5"/>
<circle cx="246.59" cy="447.37" r="1.5"/>
<circle cx="247.02" cy="447.37" r="1.5"/>
<circle cx="247.44" cy="447.37" r="1.5"/>
<circle cx="247.87" cy="447.37" r="1.5"/>
<circle cx="248.29" cy="447.37" r="1.5"/>
<circle cx="248.72" cy="447.37" r="1.5"/>
<circle cx="249.15" cy="447.37" r="1.5"/>
<circle cx="249.57" cy="447.37" r="1.5"/>
<circle cx="250" cy="447.37" r="1.5"/>
<circle cx="250.42" cy="447.37" r="1.5"/>
<circle cx="250.85" cy="447.37" r="1.5"/>
<circle cx="251.28" cy="447.37" r="1.5"/>
<circle cx="251.7" cy="447.37" r="1.5"/>
<circle cx="252.13" cy="447.37" r="1.5"/>
<circle cx="252.55" cy="447.37" r="1.5"/>
<circle cx="252.98" cy="447.37" r="1.5"/>
<circle cx="253.4" cy="447.37" r="1.5"/>
<circle cx="253.83" cy="447.37" r="1.5"/>
<circle cx="254.26" cy="447.37" r="1.5"/>
<circle cx="254.68" cy="447.37" r="1.5"/>
<circle cx="255.11" cy="447.37" r="1.5"/>
<circle cx="255.53" cy="447.37" r="1.5"/>
<circle cx="255.96" cy="447.37" r="1.5"/>
<circle cx="256.39" cy="447.37" r="1.5"/>
<circle cx="256.81" cy="447.37" r="1.5"/>
<circle cx="257.24" cy="447.37" r="1.5"/>
<circle cx="257.66" cy="447.37" r="1.5"/>
<circle cx="258.09" cy="447.37" r="1.5"/>
<circle cx="258.51" cy="447.37" r="1.5"/>
<circle cx="258.94" cy="447.37" r="1.5"/>
<circle cx="259.37" cy="447.37" r="1.5"/>
<circle cx="259.79" cy="447.37" r="1.5"/>
<circle cx="260.22" cy="447.37" r="1.5"/>
<circle cx="260.64" cy="447.37" r="1.5"/>
<circle cx="261.07" cy="447.37" r="1.5"/>
<circle cx="261.5" cy="447.37" r="1.5"/>
<circle cx="261.92" cy="447.37" r="1.5"/>
<circle cx="262.35" cy="447.37" r="1.5"/>
<circle cx="262.77" cy="446.84" r="1.5"/>
<circle cx="263.2" cy="446.84" r="1.5"/>
<circle cx="263.62" cy="446.84" r="1.5"/>
<circle cx="264.05" cy="446.84" r="1.5"/>
<circle cx="264.48" cy="446.84" r="1.5"/>
<circle cx="264.9" cy="446.84" r="1.5"/>
<circle cx="265.33" cy="446.84" r="1.5"/>
<circle cx="265.75" cy="446.84" r="1.5"/>
<circle cx="266.18" cy="446.84" r="1.5"/>
<circle cx="266.61" cy="446.84" r="1.5"/>
<circle cx="267.03" cy="446.84" r="1.5"/>
<circle cx="267.46" cy="446.84" r="1.5"/>
<circle cx="267.88" cy="446.84" r="1.5"/>
<circle cx="268.31" cy="446.84" r="1.5"/>
<circle cx="268.73" cy="446.84" r="1.5"/>
<circle cx="269.16" cy="446.84" r="1.5"/>
<circle cx="269.59" cy="446.84" r="1.5"/>
<circle cx="270.01" cy="446.84" r="1.5"/>
<circle cx="270.44" cy="446.84" r="1.5"/>
<circle cx="270.86" cy="446.84" r="1.5"/>
<circle cx="271.29" cy="446.84" r="1.5"/>
<circle cx="271.72" cy="446.84" r="1.5"/>
<circle cx="272.14" cy="446.84" r="1.5"/>
<circle cx="272.57" cy="446.84" r="1.5"/>
<circle cx="272.99" cy="446.84" r="1.5"/>
<circle cx="273.42" cy="446.84" r="1.5"/>
<circle cx="273.84" cy="446.84" r="1.5"/>
<circle cx="274.27" cy="446.84" r="1.5"/>
<circle cx="274.7" cy="446.84" r="1.5"/>
<circle cx="275.12" cy="446.84" r="1.5"/>
<circle cx="275.55" cy="446.84" r="1.5"/>
<circle cx="275.97" cy="446.32" r="1.5"/>
<circle cx="276.4" cy="446.32" r="1.5"/>
<circle cx="276.83" cy="446.32" r="1.5"/>
<circle cx="277.25" cy="446.32" r="1.5"/>
<circle cx="277.68" cy="446.32" r="1.5"/>
<circle cx="278.1" cy="446.32" r="1.5"/>
<circle cx="278.53" cy="446.32" r="1.5"/>
<circle cx="278.95" cy="446.32" r="1.5"/>
<circle cx="279.38" cy="446.32" r="1.5"/>
<circle cx="279.81" cy="446.32" r="1.5"/>
<circle cx="280.23" cy="446.32" r="1.5"/>
<circle cx="280.66" cy="446.32" r="1.5"/>
<circle cx="281.08" cy="446.32" r="1.5"/>
<circle cx="281.51" cy="446.32" r="1.5"/>
<circle cx="281.94" cy="445.79" r="1.5"/>
<circle cx="282.36" cy="445.79" r="1.5"/>
<circle cx="282.79" cy="445.79" r="1.5"/>
<circle cx="298.51" cy="485.62" r="1.5"/>
<circle cx="298.94" cy="485.62" r="1.5"/>
<circle cx="299.37" cy="485.62" r="1.5"/>
<circle cx="299.8" cy="485.62" r="1.5"/>
<circle cx="300.23" cy="485.1" r="1.5"/>
<circle cx="300.66" cy="485.1" r="1.5"/>
<circle cx="301.09" cy="485.1" r="1.5"/>
<circle cx="301.52" cy="485.1" r="1.5"/>
<circle cx="301.95" cy="485.1" r="1.5"/>
<circle cx="302.38" cy="485.1" r="1.5"/>
<circle cx="302.81" cy="485.1" r="1.5"/>
<circle cx="303.24" cy="485.1" r="1.5"/>
<circle cx="303.66" cy="484.57" r="1.5"/>
<circle cx="304.09" cy="484.57" r="1.5"/>
<circle cx="304.52" cy="484.57" r="1.5"/>
<circle cx="304.95" cy="484.57" r="1.5"/>
<circle cx="305.38" cy="484.57" r="1.5"/>
<circle cx="305.81" cy="484.57" r="1.5"/>
<circle cx="306.24" cy="484.57" r="1.5"/>
<circle cx="306.67" cy="484.57" r="1.5"/>
<circle cx="307.1" cy="484.57" r="1.5"/>
<circle cx="307.53" cy="484.57" r="1.5"/>
<circle cx="307.96" cy="484.57" r="1.5"/>
<circle cx="308.39" cy="484.04" r="1.5"/>
<circle cx="308.81" cy="484.04" r="1.5"/>
<circle cx="309.24" cy="484.04" r="1.5"/>
<circle cx="309.67" cy="484.04" r="1.5"/>
<circle cx="310.1" cy="484.04" r="1.5"/>
<circle cx="310.53" cy="484.04" r="1.5"/>
<circle cx="310.96" cy="484.04" r="1.5"/>
<circle cx="311.39" cy="464.05" r="1.5"/>
<circle cx="311.82" cy="463.52" r="1.5"/>
<circle cx="312.25" cy="463.52" r="1.5"/>
<circle cx="312.68" cy="463.52" r="1.5"/>
<circle cx="313.11" cy="463.52" r="1.5"/>
<circle cx="313.54" cy="463.52" r="1.5"/>
<circle cx="313.96" cy="463" r="1.5"/>
<circle cx="314.39" cy="463" r="1.5"/>
<circle cx="314.82" cy="463" r="1.5"/>
<circle cx="315.25" cy="463" r="1.5"/>
<circle cx="315.68" cy="463" r="1.5"/>
<circle cx="316.11" cy="463" r="1.5"/>
<circle cx="316.54" cy="463" r="1.5"/>
<circle cx="316.97" cy="463" r="1.5"/>
<circle cx="317.4" cy="463" r="1.5"/>
<circle cx="317.83" cy="462.47" r="1.5"/>
<circle cx="318.26" cy="462.47" r="1.5"/>
<circle cx="318.69" cy="462.47" r="1.5"/>
<circle cx="319.11" cy="462.47" r="1.5"/>
<circle cx="319.54" cy="462.47" r="1.5"/>
<circle cx="319.97" cy="462.47" r="1.5"/>
<circle cx="320.4" cy="462.47" r="1.5"/>
<circle cx="320.83" cy="462.47" r="1.5"/>
<circle cx="321.26" cy="462.47" r="1.5"/>
<circle cx="321.69" cy="462.47" r="1.5"/>
<circle cx="322.12" cy="462.47" r="1.5"/>
<circle cx="322.55" cy="462.47" r="1.5"/>
<circle cx="322.98" cy="461.94" r="1.5"/>
<circle cx="323.41" cy="461.94" r="1.5"/>
<circle cx="323.84" cy="461.94" r="1.5"/>
<circle cx="324.26" cy="461.94" r="1.5"/>
<circle cx="324.69" cy="461.94" r="1.5"/>
<circle cx="325.12" cy="461.94" r="1.5"/>
<circle cx="325.55" cy="461.94" r="1.5"/>
<circle cx="325.98" cy="461.94" r="1.5"/>
<circle cx="326.41" cy="441.42" r="1.5"/>
<circle cx="326.84" cy="441.42" r="1.5"/>
<circle cx="327.27" cy="440.9" r="1.5"/>
<circle cx="327.7" cy="440.9" r="1.5"/>
<circle cx="328.13" cy="440.9" r="1.5"/>
<circle cx="328.56" cy="440.37" r="1.5"/>
<circle cx="328.99" cy="440.37" r="1.5"/>
<circle cx="329.41" cy="440.37" r="1.5"/>
<circle cx="329.84" cy="440.37" r="1.5"/>
<circle cx="330.27" cy="440.37" r="1.5"/>
<circle cx="330.7" cy="439.84" r="1.5"/>
<circle cx="331.13" cy="439.84" r="1.5"/>
<circle cx="331.56" cy="439.84" r="1.5"/>
<circle cx="331.99" cy="439.84" r="1.5"/>
<circle cx="332.42" cy="419.85" r="1.5"/>
<circle cx="332.85" cy="419.85" r="1.5"/>
<circle cx="333.28" cy="419.32" r="1.5"/>
<circle cx="333.71" cy="419.32" r="1.5"/>
<circle cx="334.14" cy="418.8" r="1.5"/>
<circle cx="334.56" cy="418.8" r="1.5"/>
<circle cx="334.99" cy="418.8" r="1.5"/>
<circle cx="335.42" cy="418.8" r="1.5"/>
<circle cx="335.85" cy="418.8" r="1.5"/>
<circle cx="336.28" cy="418.8" r="1.5"/>
<circle cx="336.71" cy="418.27" r="1.5"/>
<circle cx="337.14" cy="418.27" r="1.5"/>
<circle cx="337.57" cy="418.27" r="1.5"/>
<circle cx="338" cy="418.27" r="1.5"/>
<circle cx="338.43" cy="418.27" r="1.5"/>
<circle cx="338.86" cy="418.27" r="1.5"/>
<circle cx="339.29" cy="418.27" r="1.5"/>
<circle cx="339.71" cy="418.27" r="1.5"/>
<circle cx="340.14" cy="417.74" r="1.5"/>
<circle cx="340.57" cy="417.74" r="1.5"/>
<circle cx="341" cy="417.74" r="1.5"/>
<circle cx="341.43" cy="417.74" r="1.5"/>
<circle cx="341.86" cy="417.74" r="1.5"/>
<circle cx="342.29" cy="397.22" r="1.5"/>
<circle cx="342.72" cy="396.7" r="1.5"/>
<circle cx="343.15" cy="396.7" r="1.5"/>
<circle cx="343.58" cy="396.7" r="1.5"/>
<circle cx="344.01" cy="396.7" r="1.5"/>
<circle cx="344.44" cy="396.7" r="1.5"/>
<circle cx="344.86" cy="396.17" r="1.5"/>
<circle cx="345.29" cy="396.17" r="1.5"/>
<circle cx="345.72" cy="396.17" r="1.5"/>
<circle cx="346.15" cy="396.17" r="1.5"/>
<circle cx="346.58" cy="396.17" r="1.5"/>
<circle cx="347.01" cy="396.17" r="1.5"/>
<circle cx="347.44" cy="396.17" r="1.5"/>
<circle cx="347.87" cy="395.64" r="1.5"/>
<circle cx="348.3" cy="395.64" r="1.5"/>
<circle cx="348.73" cy="395.64" r="1.5"/>
<circle cx="349.16" cy="395.64" r="1.5"/>
<circle cx="349.59" cy="395.64" r="1.5"/>
</g>
<rect x="225.6" y="389.2" width="63.5" height="108.7" fill="none" stroke="#a3a7ab" stroke-width="1"/>
<rect x="291.8" y="389.2" width="64.2" height="108.7" fill="none" stroke="#a3a7ab" stroke-width="1"/>
<line x1="231.5" y1="497.9" x2="231.5" y2="502.4" stroke="#a3a7ab" stroke-width="1"/>
<text transform="translate(231.7 513.5) scale(0.885 1)" font-size="10" text-anchor="middle">0.0</text>
<line x1="252.5" y1="497.9" x2="252.5" y2="502.4" stroke="#a3a7ab" stroke-width="1"/>
<text transform="translate(252.14 513.5) scale(0.885 1)" font-size="10" text-anchor="middle">0.4</text>
<line x1="272.5" y1="497.9" x2="272.5" y2="502.4" stroke="#a3a7ab" stroke-width="1"/>
<text transform="translate(272.58 513.5) scale(0.885 1)" font-size="10" text-anchor="middle">0.8</text>
<line x1="298.5" y1="497.9" x2="298.5" y2="502.4" stroke="#a3a7ab" stroke-width="1"/>
<text transform="translate(298.1 513.5) scale(0.885 1)" font-size="10" text-anchor="middle">0.0</text>
<line x1="318.5" y1="497.9" x2="318.5" y2="502.4" stroke="#a3a7ab" stroke-width="1"/>
<text transform="translate(318.7 513.5) scale(0.885 1)" font-size="10" text-anchor="middle">0.4</text>
<line x1="339.5" y1="497.9" x2="339.5" y2="502.4" stroke="#a3a7ab" stroke-width="1"/>
<text transform="translate(339.3 513.5) scale(0.885 1)" font-size="10" text-anchor="middle">0.8</text>
<line x1="221.1" y1="403.5" x2="225.6" y2="403.5" stroke="#a3a7ab" stroke-width="1"/>
<text transform="translate(217.8 405.9) scale(0.885 1)" font-size="10" text-anchor="end">2</text>
<line x1="221.1" y1="425.5" x2="225.6" y2="425.5" stroke="#a3a7ab" stroke-width="1"/>
<text transform="translate(217.8 428) scale(0.885 1)" font-size="10" text-anchor="end">1</text>
<line x1="221.1" y1="447.5" x2="225.6" y2="447.5" stroke="#a3a7ab" stroke-width="1"/>
<text transform="translate(217.8 450.1) scale(0.885 1)" font-size="10" text-anchor="end">0</text>
<line x1="221.1" y1="469.5" x2="225.6" y2="469.5" stroke="#a3a7ab" stroke-width="1"/>
<text transform="translate(217.8 472.2) scale(0.885 1)" font-size="10" text-anchor="end">-1</text>
<line x1="221.1" y1="491.5" x2="225.6" y2="491.5" stroke="#a3a7ab" stroke-width="1"/>
<text transform="translate(217.8 494.3) scale(0.885 1)" font-size="10" text-anchor="end">-2</text>
<text x="257.75" y="381" font-size="10.2" text-anchor="middle">Fit–Mean</text>
<text x="324.7" y="381" font-size="10.2" text-anchor="middle">Residual</text>
<text x="290.2" y="527.6" font-size="10.2" text-anchor="middle">Proportion Less</text>
<rect x="401.5" y="413.8" width="93" height="75.9" fill="none" stroke="#d2d2d2" stroke-width="1"/>
<text transform="translate(404.6 422.9) scale(0.922 1)" font-size="10" text-anchor="start">Observations</text>
<text transform="translate(491.5 422.9) scale(0.922 1)" font-size="10" text-anchor="end">120</text>
<text transform="translate(404.6 435.42) scale(0.922 1)" font-size="10" text-anchor="start">Parameters</text>
<text transform="translate(491.5 435.42) scale(0.922 1)" font-size="10" text-anchor="end">2</text>
<text transform="translate(404.6 447.94) scale(0.922 1)" font-size="10" text-anchor="start">Error DF</text>
<text transform="translate(491.5 447.94) scale(0.922 1)" font-size="10" text-anchor="end">118</text>
<text transform="translate(404.6 460.46) scale(0.922 1)" font-size="10" text-anchor="start">MSE</text>
<text transform="translate(491.5 460.46) scale(0.922 1)" font-size="10" text-anchor="end">2.0265</text>
<text transform="translate(404.6 472.98) scale(0.922 1)" font-size="10" text-anchor="start">R-Square</text>
<text transform="translate(491.5 472.98) scale(0.922 1)" font-size="10" text-anchor="end">0.0003</text>
<text transform="translate(404.6 485.5) scale(0.922 1)" font-size="10" text-anchor="start">Adj R-Square</text>
<text transform="translate(491.5 485.5) scale(0.922 1)" font-size="10" text-anchor="end">-0.008</text>
</svg>
</body></html>
